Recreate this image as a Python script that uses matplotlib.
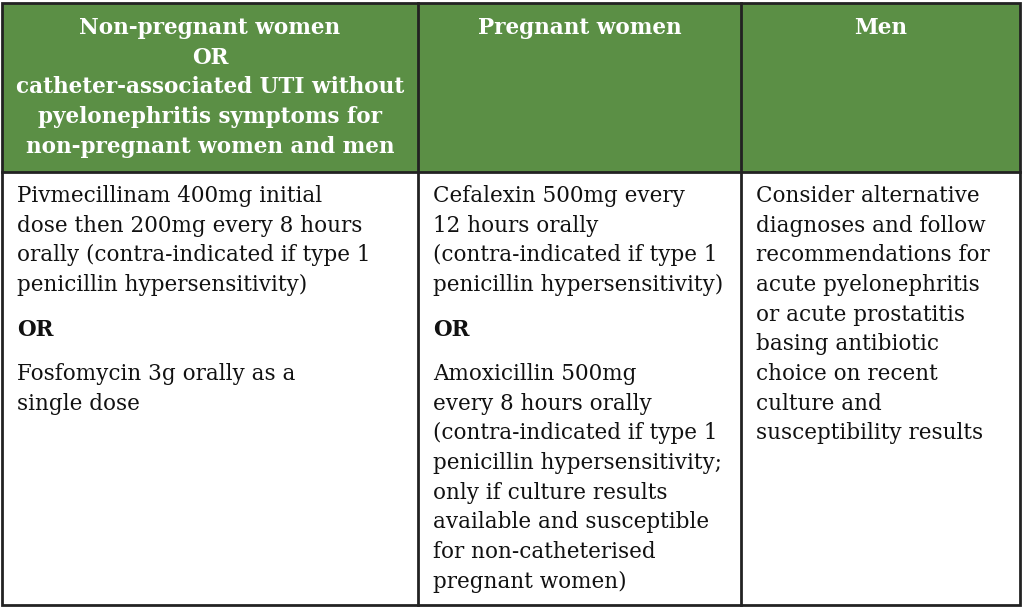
import matplotlib.pyplot as plt
from matplotlib.patches import Rectangle

headers = [
    "Non-pregnant women\nOR\ncatheter-associated UTI without\npyelonephritis symptoms for\nnon-pregnant women and men",
    "Pregnant women",
    "Men",
]
col1_blocks = [
    ("Pivmecillinam 400mg initial\ndose then 200mg every 8 hours\norally (contra-indicated if type 1\npenicillin hypersensitivity)", False),
    ("OR", True),
    ("Fosfomycin 3g orally as a\nsingle dose", False),
]
col2_blocks = [
    ("Cefalexin 500mg every\n12 hours orally\n(contra-indicated if type 1\npenicillin hypersensitivity)", False),
    ("OR", True),
    ("Amoxicillin 500mg\nevery 8 hours orally\n(contra-indicated if type 1\npenicillin hypersensitivity;\nonly if culture results\navailable and susceptible\nfor non-catheterised\npregnant women)", False),
]
col3_blocks = [
    ("Consider alternative\ndiagnoses and follow\nrecommendations for\nacute pyelonephritis\nor acute prostatitis\nbasing antibiotic\nchoice on recent\nculture and\nsusceptibility results", False),
]

W, H = 1024, 615
col_x = [2, 418, 741, 1020]
top, head_bot, bot = 3, 172, 605
green = "#5b8f45"
font = "DejaVu Serif"
fs = 15.5
line_h = 30

fig = plt.figure(figsize=(W / 100, H / 100), dpi=100)
ax = fig.add_axes([0, 0, 1, 1])
ax.set_xlim(0, W)
ax.set_ylim(H, 0)
ax.axis("off")

ax.add_patch(Rectangle((col_x[0], top), col_x[-1] - col_x[0], head_bot - top,
                       facecolor=green, edgecolor="none"))
ax.add_patch(Rectangle((col_x[0], top), col_x[-1] - col_x[0], bot - top,
                       facecolor="none", edgecolor="#222222", linewidth=2))
ax.plot([col_x[0], col_x[-1]], [head_bot, head_bot], color="#222222", lw=2)
for x in col_x[1:-1]:
    ax.plot([x, x], [top, bot], color="#222222", lw=2)

for i, h in enumerate(headers):
    cx = (col_x[i] + col_x[i + 1]) / 2
    ax.text(cx, 17, h, ha="center", va="top", color="white", fontweight="bold",
            fontfamily=font, fontsize=fs, linespacing=1.45)

for i, blocks in enumerate([col1_blocks, col2_blocks, col3_blocks]):
    y = 185
    for text, bold in blocks:
        ax.text(col_x[i] + 15, y, text, ha="left", va="top", color="#111111",
                fontweight="bold" if bold else "normal", fontfamily=font,
                fontsize=fs, linespacing=1.45)
        y += line_h * (text.count("\n") + 1) + 14

fig.savefig("out.png", dpi=100)
